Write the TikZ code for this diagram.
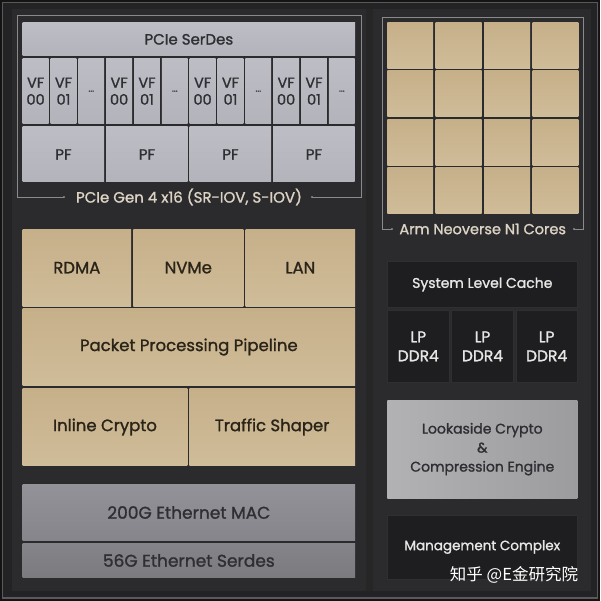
\documentclass[tikz,border=0pt]{standalone}
\usepackage{fontspec}
\setmainfont{Poppins}[FakeBold=1.3]
\newfontfamily\cjk{Noto Sans CJK SC}
\definecolor{bgout}{HTML}{141415}
\definecolor{bgin}{HTML}{232325}
\definecolor{panel}{HTML}{2B2B2D}
\definecolor{frameln}{HTML}{8A8A8C}
\definecolor{gtop}{HTML}{C6B08A}
\definecolor{gbot}{HTML}{CFBC98}
\definecolor{gtext}{HTML}{2A2418}
\definecolor{stop}{HTML}{BDBDC5}
\definecolor{sbot}{HTML}{B3B3BB}
\definecolor{stext}{HTML}{2E2E33}
\definecolor{mactop}{HTML}{929298}
\definecolor{macbot}{HTML}{85858B}
\definecolor{sdtop}{HTML}{858589}
\definecolor{sdbot}{HTML}{7B7B7F}
\definecolor{lkl}{HTML}{B2B2B4}
\definecolor{lkr}{HTML}{9C9C9E}
\definecolor{darkbox}{HTML}{1E1E20}
\definecolor{darkedge}{HTML}{2F2F31}
\definecolor{lighttext}{HTML}{E6E6E6}
\definecolor{labeltext}{HTML}{DCD3C4}
\begin{document}
\begin{tikzpicture}[x=1pt,y=-1pt,
  blk/.style={inner sep=0pt, outer sep=0pt, anchor=north west, align=center},
  goldb/.style={blk, top color=gtop, bottom color=gbot, text=gtext, font=\fontsize{16.5}{19}\selectfont},
  coreb/.style={blk, top color=gtop, bottom color=gbot, minimum width=45.9pt, minimum height=45.8pt},
  silb/.style={blk, top color=stop, bottom color=sbot, text=stext, font=\fontsize{15}{18}\selectfont},
  vfb/.style={silb, minimum width=25.8pt, minimum height=65.7pt, font=\fontsize{14.5}{17}\selectfont},
  darkb/.style={blk, fill=darkbox, draw=darkedge, line width=0.6pt, text=lighttext, font=\fontsize{14}{19}\selectfont},
  lbl/.style={inner sep=0pt, text=labeltext, fill=panel, font=\fontsize{14}{16}\selectfont},
  frm/.style={draw=frameln, line width=0.8pt},
  dotm/.style={fill=frameln, circle, inner sep=0pt, minimum size=2.2pt}
]
\useasboundingbox (0,0) rectangle (600,601);
% background and panels
\fill[bgout] (0,0) rectangle (600,601);
\draw[fill=bgin, draw=black!65!white, line width=1.5pt] (2.5,2.5) rectangle (597.5,598);
\fill[black!85!white] (11.7,9.3) rectangle (590.5,590.5);
\fill[panel] (11.7,9.3) rectangle (366,590.5);
\fill[panel] (373.3,9.3) rectangle (590.5,590.5);

% PCIe frame
\coordinate (pfA) at (64,197);
\coordinate (pfB) at (312,197);
\draw[frm] (pfA) -- (17.5,197) -- (17.5,15) -- (361,15) -- (361,197) -- (pfB);
\node[dotm] (pfdA) at (pfA) {};
\node[dotm] (pfdB) at (pfB) {};
\node[lbl, font=\fontsize{15}{16}\selectfont] (pcielbl) at (189,197) {PCIe Gen 4 x16 (SR-IOV, S-IOV)};

% Cores frame
\coordinate (cfA) at (392,229);
\coordinate (cfB) at (574,229);
\draw[frm] (cfA) -- (382.5,229) -- (382.5,17) -- (583,17) -- (583,229) -- (cfB);
\node[dotm] (cfdA) at (cfA) {};
\node[dotm] (cfdB) at (cfB) {};
\node[lbl, font=\fontsize{14.5}{16}\selectfont] (armlbl) at (482.7,229) {Arm Neoverse N1 Cores};

% PCIe block
\node[silb, minimum width=332.3pt, minimum height=33.3pt] (serdes) at (22.7,22.7) {PCIe SerDes};
\foreach \g in {0,1,2,3}{
  \pgfmathsetmacro{\gx}{22.7+\g*83.5}
  \node[vfb] (vf\g a) at (\gx,58.3) {VF\\00};
  \node[vfb] (vf\g b) at ({\gx+27.85},58.3) {VF\\01};
  \node[vfb, font=\fontsize{9}{10}\selectfont] (vf\g c) at ({\gx+55.7},58.3) {...};
  \node[silb, minimum width=81.5pt, minimum height=55pt] (pf\g) at (\gx,127) {PF};
}

% Gold processing blocks
\node[goldb, minimum width=108.3pt, minimum height=76.7pt] (rdma) at (22.7,229.3) {RDMA};
\node[goldb, minimum width=110pt, minimum height=76.7pt] (nvme) at (133.3,229.3) {NVMe};
\node[goldb, minimum width=109.3pt, minimum height=76.7pt] (lan) at (245.7,229.3) {LAN};
\node[goldb, minimum width=332.3pt, minimum height=77.4pt] (ppp) at (22.7,308.3) {Packet Processing Pipeline};
\node[goldb, minimum width=164.6pt, minimum height=77.4pt] (inline) at (22.7,388.3) {Inline Crypto};
\node[goldb, minimum width=165.7pt, minimum height=77.4pt] (traffic) at (189.3,388.3) {Traffic Shaper};

% Ethernet
\node[blk, top color=mactop, bottom color=macbot, text=stext, font=\fontsize{17}{19}\selectfont, minimum width=332.3pt, minimum height=56.4pt] (mac) at (22.7,484.3) {200G Ethernet MAC};
\node[blk, top color=sdtop, bottom color=sdbot, text=stext, font=\fontsize{17}{19}\selectfont, minimum width=332.3pt, minimum height=34.4pt] (eserdes) at (22.7,543.3) {56G Ethernet Serdes};

% Cores
\foreach \r in {0,1,2,3}{
  \foreach \c in {0,1,2,3}{
    \node[coreb] (core\r\c) at ({387.3+\c*48.4},{22.7+\r*48.3}) {};
  }
}

% Right column
\node[darkb, minimum width=190pt, minimum height=45.6pt] (slc) at (387.3,261.7) {System Level Cache};
\node[darkb, font=\fontsize{15.5}{19}\selectfont, minimum width=62pt, minimum height=72.7pt] (lp1) at (387.3,310) {LP\\DDR4};
\node[darkb, font=\fontsize{15.5}{19}\selectfont, minimum width=61.6pt, minimum height=72.7pt] (lp2) at (451.7,310) {LP\\DDR4};
\node[darkb, font=\fontsize{15.5}{19}\selectfont, minimum width=61.3pt, minimum height=72.7pt] (lp3) at (516,310) {LP\\DDR4};
\node[blk, left color=lkl, right color=lkr, text=stext, font=\fontsize{14}{19}\selectfont, minimum width=190pt, minimum height=98.3pt] (look) at (387.3,400) {Lookaside Crypto\\\&\\Compression Engine};
\node[darkb, font=\fontsize{13.5}{19}\selectfont, minimum width=190pt, minimum height=64pt] (mgmt) at (387.3,515) {Management Complex};

% watermark
\node[inner sep=0pt, text=white, font=\cjk\fontsize{16.5}{18}\selectfont] (wm) at (514,575) {知乎 @E金研究院};
\end{tikzpicture}
\end{document}
